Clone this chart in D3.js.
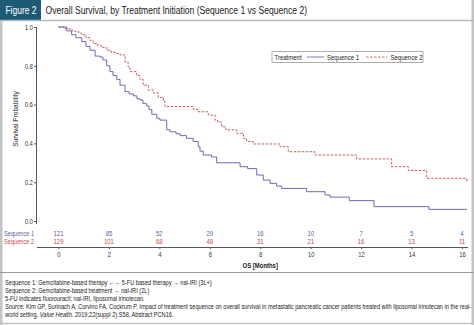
<!DOCTYPE html>
<html>
<head>
<meta charset="utf-8">
<script src="https://cdn.jsdelivr.net/npm/d3@7"></script>
<style>
  body { margin: 0; background: #fff; }
  svg { display: block; font-family: "Liberation Sans", Arial, sans-serif; }
</style>
</head>
<body>
<div id="chart"></div>
<script>
// Kaplan-Meier steps (months, survival probability)
var seq1Times = [0, 0.06, 0.33, 0.52, 0.69, 0.92, 1.09, 1.25, 1.45, 1.65, 1.76, 1.91, 2.04, 2.16, 2.31, 2.44, 2.64, 2.8, 2.97, 3.11, 3.23, 3.35, 3.5, 3.59, 3.7, 3.9, 4.02, 4.29, 4.42, 4.66, 4.82, 5.08, 5.34, 5.54, 5.61, 5.74, 6.07, 6.27, 7.2, 7.5, 7.86, 8.12, 8.39, 8.65, 8.85, 9.84, 10.57, 10.77, 11.53, 12.51, 14.69, 16.2];
var seq1Surv  = [1, 1, 0.98, 0.96, 0.945, 0.925, 0.9, 0.88, 0.85, 0.845, 0.83, 0.8, 0.77, 0.75, 0.73, 0.7, 0.667, 0.655, 0.645, 0.63, 0.624, 0.605, 0.593, 0.575, 0.55, 0.53, 0.52, 0.47, 0.46, 0.45, 0.44, 0.426, 0.41, 0.383, 0.36, 0.34, 0.33, 0.3, 0.28, 0.27, 0.237, 0.211, 0.194, 0.18, 0.168, 0.151, 0.134, 0.123, 0.105, 0.074, 0.06, 0.06];

var seq2Times = [0, 0.06, 0.22, 0.39, 0.54, 0.65, 0.81, 0.92, 1.09, 1.25, 1.37, 1.51, 1.69, 1.91, 2.08, 2.24, 2.44, 2.64, 2.76, 2.84, 3.1, 3.23, 3.36, 3.56, 3.76, 3.96, 4.16, 4.22, 5.08, 5.34, 5.53, 5.94, 6.21, 6.32, 6.47, 6.64, 7.07, 7.33, 7.46, 7.72, 8.78, 9.11, 10.17, 11.82, 13.21, 13.87, 14.6, 16.19, 16.24];
var seq2Surv  = [1, 1, 0.992, 0.99, 0.98, 0.976, 0.968, 0.96, 0.945, 0.93, 0.915, 0.907, 0.895, 0.88, 0.87, 0.864, 0.856, 0.82, 0.795, 0.77, 0.75, 0.73, 0.7, 0.675, 0.66, 0.637, 0.62, 0.59, 0.59, 0.575, 0.563, 0.546, 0.52, 0.51, 0.486, 0.47, 0.452, 0.426, 0.41, 0.397, 0.383, 0.357, 0.34, 0.32, 0.28, 0.26, 0.22, 0.203, 0.203];

var xTicks = [0, 2, 4, 6, 8, 10, 12, 14, 16];
var yTicks = [0, 0.2, 0.4, 0.6, 0.8, 1.0];
var atRisk1 = [121, 85, 52, 29, 16, 10, 7, 5, 4];
var atRisk2 = [129, 101, 68, 48, 31, 21, 16, 13, 11];

var notes = [
  "Sequence 1: Gemcitabine-based therapy \u2190\u2192 5-FU based therapy \u2192 nal-IRI (3L+)",
  "Sequence 2: Gemcitabine-based treatment \u2192 nal-IRI (2L)",
  "5-FU indicates fluorouracil; nal-IRI, liposomal irinotecan."
];

var W = 474, H = 325;
var blue = "#5a5ca6", red = "#c8474d";

var svg = d3.select("#chart").append("svg")
  .attr("width", W)
  .attr("height", H);

// condensed-looking text: no narrow font installed, so squeeze horizontally
function ctext(parent, x, y, s, size, sx) {
  return parent.append("text")
    .attr("transform", "translate(" + x + "," + y + ") scale(" + sx + ",1)")
    .attr("font-size", size)
    .attr("fill", "#1a1a1a")
    .text(s);
}

// frame
svg.append("rect").attr("x", 0).attr("y", 0).attr("width", W).attr("height", H).attr("fill", "#fff");
svg.append("rect").attr("x", 0).attr("y", 0).attr("width", 2.5).attr("height", H).attr("fill", "#c4c4c4");
svg.append("rect").attr("x", W - 2.5).attr("y", 0).attr("width", 2.5).attr("height", H).attr("fill", "#c4c4c4");

// header
svg.append("rect").attr("x", 0).attr("y", 0).attr("width", 41).attr("height", 20).attr("fill", "#1d5a76");
ctext(svg, 21, 14, "Figure 2", 11.5, 0.74).attr("text-anchor", "middle").attr("fill", "#fff");
ctext(svg, 45.5, 14, "Overall Survival, by Treatment Initiation (Sequence 1 vs Sequence 2)", 11.5, 0.745);
svg.append("line").attr("x1", 0).attr("x2", W).attr("y1", 20.5).attr("y2", 20.5)
  .attr("stroke", "#b8b8b8").attr("stroke-width", 1.5);

// scales
var x = d3.scaleLinear().domain([0, 16]).range([58.5, 462]);
var y = d3.scaleLinear().domain([0, 1]).range([221, 27]);

// y axis
var yAxis = svg.append("g").attr("transform", "translate(37,0)")
  .call(d3.axisLeft(y).tickValues(yTicks).tickFormat(d3.format(".1f")).tickSize(3));
yAxis.select(".domain").attr("d", "M-0.5,27V224").attr("stroke", "#555");
yAxis.selectAll(".tick line").attr("stroke", "#555");
yAxis.selectAll(".tick text").attr("font-size", 7).attr("fill", "#333").attr("font-family", null)
  .attr("x", -4.8).attr("transform", "scale(0.85,1)");

ctext(svg, 0, 0, "Survival Probability", 8, 0.82)
  .attr("transform", "translate(18,119) rotate(-90) scale(0.82,1)")
  .attr("text-anchor", "middle");

// x axis (below at-risk table)
var xAxis = svg.append("g").attr("transform", "translate(0,247)")
  .call(d3.axisBottom(x).tickValues(xTicks).tickSize(2).tickPadding(3.5));
xAxis.select(".domain").attr("d", "M37,0.5H468").attr("stroke", "#555");
xAxis.selectAll(".tick line").attr("stroke", "#555");
xAxis.selectAll(".tick text").attr("font-size", 7).attr("fill", "#333").attr("font-family", null)
  .attr("transform", "scale(0.85,1)");

ctext(svg, x(8), 268, "OS [Months]", 7, 0.85)
  .attr("text-anchor", "middle").attr("font-weight", "bold");

// at-risk table
ctext(svg, 34, 235.5, "Sequence 1", 7.2, 0.78).attr("text-anchor", "end").attr("fill", blue);
ctext(svg, 34, 244.3, "Sequence 2", 7.2, 0.78).attr("text-anchor", "end").attr("fill", red);
atRisk1.forEach(function(d, i) {
  ctext(svg, x(xTicks[i]), 235.5, d, 7, 0.85).attr("text-anchor", "middle").attr("fill", blue);
});
atRisk2.forEach(function(d, i) {
  ctext(svg, x(xTicks[i]), 244.3, d, 7, 0.85).attr("text-anchor", "middle").attr("fill", red);
});

// curves
var line = d3.line()
  .x(function(d) { return x(d[0]); })
  .y(function(d) { return y(d[1]); })
  .curve(d3.curveStepAfter);

svg.append("path").datum(d3.zip(seq2Times, seq2Surv))
  .attr("d", line).attr("fill", "none").attr("stroke", red)
  .attr("stroke-width", 0.9).attr("stroke-dasharray", "2.5,1.5");
svg.append("path").datum(d3.zip(seq1Times, seq1Surv))
  .attr("d", line).attr("fill", "none").attr("stroke", blue)
  .attr("stroke-width", 0.9);

// legend
var lg = svg.append("g").attr("transform", "translate(272,51)");
lg.append("rect").attr("x", 0).attr("y", 0.5).attr("width", 151).attr("height", 11)
  .attr("fill", "#fff").attr("stroke", "#999").attr("stroke-width", 0.8);
ctext(lg, 2.5, 8.5, "Treatment", 7.5, 0.8);
lg.append("line").attr("x1", 35).attr("x2", 52).attr("y1", 6).attr("y2", 6).attr("stroke", blue).attr("stroke-width", 0.8);
ctext(lg, 55, 8.5, "Sequence 1", 7.5, 0.8);
lg.append("line").attr("x1", 94).attr("x2", 115).attr("y1", 6).attr("y2", 6).attr("stroke", red)
  .attr("stroke-width", 0.8).attr("stroke-dasharray", "2.5,1.5");
ctext(lg, 118.5, 8.5, "Sequence 2", 7.5, 0.8);

// footer
svg.append("line").attr("x1", 0).attr("x2", W).attr("y1", 272.5).attr("y2", 272.5)
  .attr("stroke", "#9a9a9a").attr("stroke-width", 1.2);
notes.forEach(function(d, i) {
  ctext(svg, 5, 284.5 + i * 8.1, d, 6.8, 0.83);
});

var src = ctext(svg, 5, 309, "", 6.8, 0.83);
src.append("tspan").attr("font-style", "italic").text("Source: ");
src.append("tspan").text("Kim GP, Surinach A, Corvino FA, Cockrum P. Impact of treatment sequence on overall survival in metastatic pancreatic cancer patients treated with liposomal irinotecan in the real-");
var src2 = ctext(svg, 5, 317, "", 6.8, 0.83);
src2.append("tspan").text("world setting. ");
src2.append("tspan").attr("font-style", "italic").text("Value Health.");
src2.append("tspan").text(" 2019;22(suppl 2):S58. Abstract PCN16.");

svg.append("line").attr("x1", 0).attr("x2", W).attr("y1", 323.5).attr("y2", 323.5)
  .attr("stroke", "#c4c4c4").attr("stroke-width", 1.5);
</script>
</body>
</html>
